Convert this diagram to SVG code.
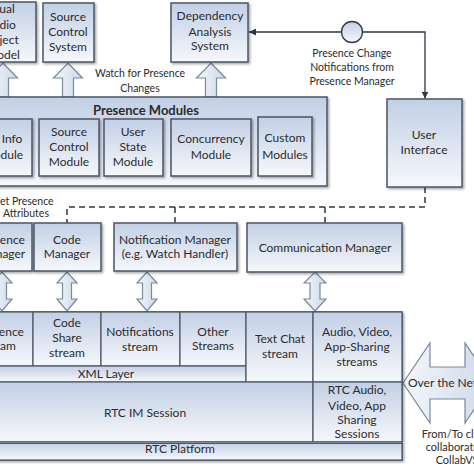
<svg xmlns="http://www.w3.org/2000/svg" width="474" height="474" viewBox="0 0 474 474">
<defs>
<linearGradient id="gb" x1="0" y1="0" x2="0" y2="1">
<stop offset="0" stop-color="#c2cfe5"/>
<stop offset="1" stop-color="#f6f8fb"/>
</linearGradient>
<linearGradient id="ga" x1="0" y1="0" x2="1" y2="0">
<stop offset="0" stop-color="#f4f7fb"/>
<stop offset="1" stop-color="#cdd8ea"/>
</linearGradient>
<filter id="sh" x="-10%" y="-10%" width="130%" height="130%">
<feDropShadow dx="1.5" dy="1.5" stdDeviation="0.8" flood-color="#000" flood-opacity="0.35"/>
</filter>
<marker id="ah" viewBox="0 0 10 10" refX="10" refY="5" markerWidth="7" markerHeight="7" orient="auto" markerUnits="userSpaceOnUse">
<path d="M0,0 L10,5 L0,10 z" fill="#2f3642"/>
</marker>
<style>
.box{fill:url(#gb);stroke:#4a5566;stroke-width:1.5;filter:url(#sh)}
.cell{fill:url(#gb);stroke:#4a5566;stroke-width:1.2}
.arr{fill:url(#ga);stroke:#7d8898;stroke-width:1.2}
.t{font-family:Lato,"Liberation Sans",sans-serif;font-size:12px;fill:#2b2b2b;text-anchor:middle}
.s{font-size:10.5px}
.f{font-size:11px}
.b{font-weight:bold;font-size:13px}
.ln{fill:none;stroke:#2f3642;stroke-width:1.3}
.dl{fill:none;stroke:#2f3642;stroke-width:1.5;stroke-dasharray:6 4}
</style>
</defs>

<g id="connectors">
<polygon class="arr" points="3,63 17.5,78 8.5,78 8.5,97 -2.5,97 -2.5,78 -11.5,78"/>
<polygon class="arr" points="68,63 82.5,78 73.5,78 73.5,97 62.5,97 62.5,78 53.5,78"/>
<polygon class="arr" points="211,63 225.5,78 216.5,78 216.5,97 205.5,97 205.5,78 196.5,78"/>
<polyline class="ln" points="341,32 249,32" marker-end="url(#ah)"/>
<polyline class="ln" points="363,32 425,32 425,98.5" marker-end="url(#ah)"/>
<circle cx="352" cy="32" r="10.5" fill="url(#gb)" stroke="#2f3642" stroke-width="1.3"/>
<polyline class="dl" points="425,187 425,207 67,207 67,223"/>
<line class="dl" x1="175" y1="207" x2="175" y2="223"/>
<line class="dl" x1="325" y1="207" x2="325" y2="223"/>
<polygon class="arr" points="2,272 12,283 6.5,283 6.5,299 12,299 2,311 -8,299 -2.5,299 -2.5,283 -8,283"/>
<polygon class="arr" points="67,272 77,283 71.5,283 71.5,299 77,299 67,311 57,299 62.5,299 62.5,283 57,283"/>
<polygon class="arr" points="147,272 157,283 151.5,283 151.5,299 157,299 147,311 137,299 142.5,299 142.5,283 137,283"/>
<polygon class="arr" points="315,272 326,283 320,283 320,299 326,299 315,311 304,299 310,299 310,283 304,283"/>
<polygon class="arr" points="403,383 430,343 430,367 465,367 465,343 492,383 465,423 465,399 430,399 430,423"/>
</g>

<g id="visual-studio-object-model">
<rect class="box" x="-10" y="2" width="46" height="60"/>
<text class="t"><tspan x="-1" y="13">Visual</tspan><tspan x="-1" y="29">Studio</tspan><tspan x="1" y="44">Object</tspan><tspan x="3" y="59">Model</tspan></text>
</g>
<g id="source-control-system">
<rect class="box" x="43" y="3" width="51" height="59"/>
<text class="t"><tspan x="68" y="21">Source</tspan><tspan x="68" y="36">Control</tspan><tspan x="68" y="51">System</tspan></text>
</g>
<g id="dependency-analysis-system">
<rect class="box" x="171" y="3" width="77" height="59"/>
<text class="t"><tspan x="210" y="20">Dependency</tspan><tspan x="210" y="36">Analysis</tspan><tspan x="210" y="50">System</tspan></text>
</g>
<text class="t s" x="140" y="77">Watch for Presence</text>
<text class="t s" x="140" y="92">Changes</text>
<text class="t s"><tspan x="352" y="57">Presence Change</tspan><tspan x="352" y="71">Notifications  from</tspan><tspan x="352" y="85">Presence Manager</tspan></text>

<g id="presence-modules">
<rect class="box" x="-10" y="97" width="337" height="89"/>
<text class="t b" x="146" y="115">Presence Modules</text>
<rect class="box" x="-10" y="119" width="42" height="57"/>
<text class="t"><tspan x="12" y="143">Info</tspan><tspan x="3" y="159">Module</tspan></text>
<rect class="box" x="39" y="119" width="60" height="57"/>
<text class="t"><tspan x="69" y="136">Source</tspan><tspan x="69" y="151">Control</tspan><tspan x="69" y="166">Module</tspan></text>
<rect class="box" x="104" y="119" width="59" height="57"/>
<text class="t"><tspan x="133" y="136">User</tspan><tspan x="133" y="151">State</tspan><tspan x="133" y="166">Module</tspan></text>
<rect class="box" x="171" y="119" width="80" height="57"/>
<text class="t"><tspan x="211" y="143">Concurrency</tspan><tspan x="211" y="159">Module</tspan></text>
<rect class="box" x="258" y="117" width="54" height="59"/>
<text class="t"><tspan x="285" y="142">Custom</tspan><tspan x="285" y="159">Modules</tspan></text>
</g>

<g id="user-interface">
<rect class="box" x="387" y="99" width="75" height="88"/>
<text class="t"><tspan x="424" y="139">User</tspan><tspan x="424" y="154">Interface</tspan></text>
</g>

<text class="t s"><tspan x="23" y="205">Get Presence</tspan><tspan x="26" y="217">Attributes</tspan></text>

<g id="presence-manager">
<rect class="box" x="-10" y="223" width="42" height="48"/>
<text class="t"><tspan x="1" y="244">Presence</tspan><tspan x="2" y="258">Manager</tspan></text>
</g>
<g id="code-manager">
<rect class="box" x="34" y="223" width="67" height="48"/>
<text class="t"><tspan x="67" y="244">Code</tspan><tspan x="67" y="258">Manager</tspan></text>
</g>
<g id="notification-manager">
<rect class="box" x="114" y="223" width="123" height="48"/>
<text class="t"><tspan x="175" y="244">Notification Manager</tspan><tspan x="175" y="258">(e.g. Watch Handler)</tspan></text>
</g>
<g id="communication-manager">
<rect class="box" x="247" y="223" width="155" height="49"/>
<text class="t" x="325" y="252">Communication Manager</text>
</g>

<g id="rtc-stack">
<rect class="box" x="-10" y="312" width="412" height="148"/>
<rect class="cell" x="-10" y="312" width="43" height="54"/>
<rect class="cell" x="33" y="312" width="68" height="54"/>
<rect class="cell" x="101" y="312" width="79" height="54"/>
<rect class="cell" x="180" y="312" width="66" height="54"/>
<rect class="cell" x="-10" y="366" width="256" height="16"/>
<rect class="cell" x="246" y="312" width="67" height="70"/>
<rect class="cell" x="313" y="312" width="89" height="70"/>
<rect class="cell" x="-10" y="382" width="323" height="60"/>
<rect class="cell" x="313" y="382" width="89" height="60"/>
<rect class="cell" x="-10" y="442" width="412" height="18"/>
<line x1="-10" y1="443.5" x2="402" y2="443.5" stroke="#4a5566" stroke-width="1"/>
<text class="t"><tspan x="0" y="336">Presence</tspan><tspan x="-2" y="350">stream</tspan></text>
<text class="t"><tspan x="67" y="327">Code</tspan><tspan x="67" y="342">Share</tspan><tspan x="67" y="357">stream</tspan></text>
<text class="t"><tspan x="140" y="336">Notifications</tspan><tspan x="140" y="351">stream</tspan></text>
<text class="t"><tspan x="213" y="336">Other</tspan><tspan x="213" y="350">Streams</tspan></text>
<text class="t" x="106" y="378">XML Layer</text>
<text class="t"><tspan x="280" y="343">Text Chat</tspan><tspan x="280" y="358">stream</tspan></text>
<text class="t"><tspan x="357" y="336">Audio, Video,</tspan><tspan x="357" y="351">App-Sharing</tspan><tspan x="357" y="366">streams</tspan></text>
<text class="t" x="145" y="417">RTC IM Session</text>
<text class="t"><tspan x="357" y="394">RTC Audio,</tspan><tspan x="357" y="410">Video, App</tspan><tspan x="357" y="424">Sharing</tspan><tspan x="357" y="438">Sessions</tspan></text>
<text class="t" x="180" y="453">RTC Platform</text>
</g>

<text class="t" x="408" y="387" style="text-anchor:start">Over the Network</text>
<text class="t f"><tspan x="457" y="438">From/To client</tspan><tspan x="457" y="451">collaborators</tspan><tspan x="457" y="464">CollabVS</tspan></text>
</svg>
